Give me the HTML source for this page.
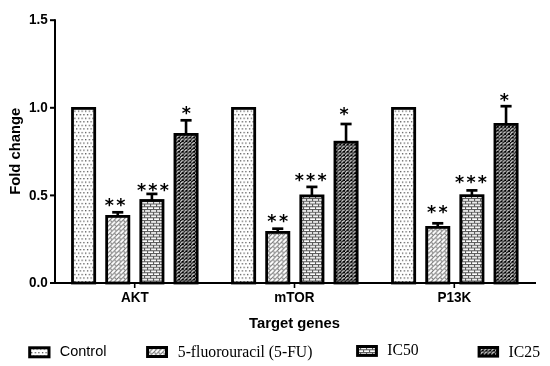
<!DOCTYPE html>
<html><head><meta charset="utf-8"><style>
html,body{margin:0;padding:0;background:#fff;width:550px;height:366px;overflow:hidden}
svg{display:block}
.ast{font-family:"DejaVu Sans",sans-serif;font-weight:bold;font-size:17.5px;text-anchor:middle;fill:#000}
.tl{font-family:"Liberation Sans",Arial,sans-serif;font-weight:bold;font-size:13.5px;fill:#000}
.at{font-family:"Liberation Sans",Arial,sans-serif;font-weight:bold;font-size:14.8px;fill:#000}
.lg{font-family:"Liberation Sans",Arial,sans-serif;font-size:14.5px;fill:#000}
.lgs{font-family:"Liberation Serif","Times New Roman",serif;font-size:15.7px;fill:#000}
</style></head><body>
<svg width="550" height="366" viewBox="0 0 550 366">
<defs>
<pattern id="pCtrl" patternUnits="userSpaceOnUse" width="3.6" height="7.1" x="0.5" y="0.5">
<rect width="3.6" height="7.1" fill="#fff"/>
<rect x="0" y="0" width="1.25" height="1.25" fill="#4a4a4a"/>
<rect x="1.8" y="3.55" width="1.25" height="1.25" fill="#4a4a4a"/>
</pattern>
<pattern id="p5fu" patternUnits="userSpaceOnUse" width="4.4" height="4.4">
<rect width="4.4" height="4.4" fill="#fff"/>
<g stroke="#6a6a6a" stroke-width="0.95">
<line x1="-1" y1="1" x2="1" y2="-1"/>
<line x1="-0.5" y1="4.9" x2="4.9" y2="-0.5"/>
<line x1="3.4" y1="5.4" x2="5.4" y2="3.4"/>
</g>
<g stroke="#808080" stroke-width="1.1">
<line x1="0.4" y1="0.4" x2="1.8" y2="1.8"/>
</g>
</pattern>
<pattern id="pIC50" patternUnits="userSpaceOnUse" width="6" height="5.5">
<rect width="6" height="5.5" fill="#fff"/>
<rect x="0" y="0" width="6" height="1.1" fill="#5a5a5a"/>
<rect x="0" y="2.75" width="6" height="1.1" fill="#5a5a5a"/>
<rect x="0" y="0" width="1.1" height="2.75" fill="#5a5a5a"/>
<rect x="3" y="2.75" width="1.1" height="2.75" fill="#5a5a5a"/>
</pattern>
<pattern id="pIC25" patternUnits="userSpaceOnUse" width="3.75" height="3.55">
<rect width="3.75" height="3.55" fill="#000"/>
<path d="M0.6,2.9 Q0.9,0.9 3.1,0.7" stroke="#f0f0f0" stroke-width="1.2" fill="none" stroke-linecap="round"/>
</pattern>
</defs>
<rect width="550" height="366" fill="#fff"/>
<rect x="72.50" y="108.40" width="22.20" height="174.60" fill="url(#pCtrl)" stroke="#000" stroke-width="2.8"/>
<line x1="117.75" y1="216.00" x2="117.75" y2="212.30" stroke="#000" stroke-width="2.6"/>
<line x1="112.20" y1="212.30" x2="123.30" y2="212.30" stroke="#000" stroke-width="2.7"/>
<rect x="106.65" y="216.40" width="22.20" height="66.60" fill="url(#p5fu)" stroke="#000" stroke-width="2.8"/>
<text x="109.40" y="210.56" class="ast">*</text>
<text x="120.90" y="210.56" class="ast">*</text>
<line x1="151.90" y1="200.10" x2="151.90" y2="193.90" stroke="#000" stroke-width="2.6"/>
<line x1="146.35" y1="193.90" x2="157.45" y2="193.90" stroke="#000" stroke-width="2.7"/>
<rect x="140.80" y="200.50" width="22.20" height="82.50" fill="url(#pIC50)" stroke="#000" stroke-width="2.8"/>
<text x="141.50" y="196.25" class="ast">*</text>
<text x="152.90" y="196.25" class="ast">*</text>
<text x="164.30" y="196.25" class="ast">*</text>
<line x1="186.05" y1="134.00" x2="186.05" y2="120.30" stroke="#000" stroke-width="2.6"/>
<line x1="180.50" y1="120.30" x2="191.60" y2="120.30" stroke="#000" stroke-width="2.7"/>
<rect x="174.95" y="134.40" width="22.20" height="148.60" fill="url(#pIC25)" stroke="#000" stroke-width="2.8"/>
<text x="186.35" y="119.16" class="ast">*</text>
<rect x="232.50" y="108.40" width="22.20" height="174.60" fill="url(#pCtrl)" stroke="#000" stroke-width="2.8"/>
<line x1="277.75" y1="232.00" x2="277.75" y2="228.70" stroke="#000" stroke-width="2.6"/>
<line x1="272.20" y1="228.70" x2="283.30" y2="228.70" stroke="#000" stroke-width="2.7"/>
<rect x="266.65" y="232.40" width="22.20" height="50.60" fill="url(#p5fu)" stroke="#000" stroke-width="2.8"/>
<text x="271.80" y="227.46" class="ast">*</text>
<text x="283.65" y="227.46" class="ast">*</text>
<line x1="311.90" y1="195.50" x2="311.90" y2="186.90" stroke="#000" stroke-width="2.6"/>
<line x1="306.35" y1="186.90" x2="317.45" y2="186.90" stroke="#000" stroke-width="2.7"/>
<rect x="300.80" y="195.90" width="22.20" height="87.10" fill="url(#pIC50)" stroke="#000" stroke-width="2.8"/>
<text x="299.30" y="185.96" class="ast">*</text>
<text x="310.70" y="185.96" class="ast">*</text>
<text x="322.10" y="185.96" class="ast">*</text>
<line x1="346.05" y1="141.80" x2="346.05" y2="124.00" stroke="#000" stroke-width="2.6"/>
<line x1="340.50" y1="124.00" x2="351.60" y2="124.00" stroke="#000" stroke-width="2.7"/>
<rect x="334.95" y="142.20" width="22.20" height="140.80" fill="url(#pIC25)" stroke="#000" stroke-width="2.8"/>
<text x="344.05" y="119.96" class="ast">*</text>
<rect x="392.50" y="108.40" width="22.20" height="174.60" fill="url(#pCtrl)" stroke="#000" stroke-width="2.8"/>
<line x1="437.75" y1="227.00" x2="437.75" y2="223.30" stroke="#000" stroke-width="2.6"/>
<line x1="432.20" y1="223.30" x2="443.30" y2="223.30" stroke="#000" stroke-width="2.7"/>
<rect x="426.65" y="227.40" width="22.20" height="55.60" fill="url(#p5fu)" stroke="#000" stroke-width="2.8"/>
<text x="431.70" y="217.50" class="ast">*</text>
<text x="443.15" y="217.50" class="ast">*</text>
<line x1="471.90" y1="195.30" x2="471.90" y2="190.40" stroke="#000" stroke-width="2.6"/>
<line x1="466.35" y1="190.40" x2="477.45" y2="190.40" stroke="#000" stroke-width="2.7"/>
<rect x="460.80" y="195.70" width="22.20" height="87.30" fill="url(#pIC50)" stroke="#000" stroke-width="2.8"/>
<text x="459.50" y="187.56" class="ast">*</text>
<text x="471.10" y="187.56" class="ast">*</text>
<text x="482.45" y="187.56" class="ast">*</text>
<line x1="506.05" y1="124.00" x2="506.05" y2="106.20" stroke="#000" stroke-width="2.6"/>
<line x1="500.50" y1="106.20" x2="511.60" y2="106.20" stroke="#000" stroke-width="2.7"/>
<rect x="494.95" y="124.40" width="22.20" height="158.60" fill="url(#pIC25)" stroke="#000" stroke-width="2.8"/>
<text x="504.45" y="105.66" class="ast">*</text>
<!-- axes -->
<line x1="55" y1="19.2" x2="55" y2="284" stroke="#000" stroke-width="2"/>
<line x1="50" y1="20.2" x2="55" y2="20.2" stroke="#000" stroke-width="2"/>
<line x1="50" y1="107.8" x2="55" y2="107.8" stroke="#000" stroke-width="2"/>
<line x1="50" y1="195.4" x2="55" y2="195.4" stroke="#000" stroke-width="2"/>
<line x1="50" y1="283" x2="536" y2="283" stroke="#000" stroke-width="2"/>
<line x1="134.7" y1="283" x2="134.7" y2="288" stroke="#000" stroke-width="1.6"/>
<line x1="294.5" y1="283" x2="294.5" y2="288" stroke="#000" stroke-width="1.6"/>
<line x1="454.3" y1="283" x2="454.3" y2="288" stroke="#000" stroke-width="1.6"/>
<!-- tick labels -->
<text class="tl" transform="translate(47.8,24.3) scale(1,1.05)" text-anchor="end">1.5</text>
<text class="tl" transform="translate(47.8,111.9) scale(1,1.05)" text-anchor="end">1.0</text>
<text class="tl" transform="translate(47.8,199.5) scale(1,1.05)" text-anchor="end">0.5</text>
<text class="tl" transform="translate(47.8,287.1) scale(1,1.05)" text-anchor="end">0.0</text>
<text class="tl" transform="translate(134.75,302) scale(1,1.05)" text-anchor="middle">AKT</text>
<text class="tl" transform="translate(294.4,302) scale(1,1.05)" text-anchor="middle">mTOR</text>
<text class="tl" transform="translate(454.35,302) scale(1,1.05)" text-anchor="middle">P13K</text>
<text class="at" transform="translate(294.5,327.8) scale(1,1.03)" text-anchor="middle">Target genes</text>
<text class="at" transform="translate(20.3,151.3) rotate(-90) scale(1,1.03)" text-anchor="middle">Fold change</text>
<!-- legend -->
<rect x="29.7" y="347.8" width="19.3" height="9" fill="url(#pCtrl)" stroke="#000" stroke-width="3"/>
<text class="lg" x="59.7" y="356.1">Control</text>
<rect x="147.6" y="347.5" width="18.9" height="9" fill="url(#p5fu)" stroke="#000" stroke-width="3"/>
<text class="lgs" x="177.8" y="356.6">5-fluorouracil (5-FU)</text>
<rect x="357.6" y="346.5" width="18.8" height="8.9" fill="url(#pIC50)" stroke="#000" stroke-width="3"/>
<text class="lgs" x="387.3" y="355.4">IC50</text>
<rect x="479.1" y="347.5" width="18.5" height="8.6" fill="url(#pIC25)" stroke="#000" stroke-width="3"/>
<text class="lgs" x="508.6" y="356.5">IC25</text>
</svg>
</body></html>
